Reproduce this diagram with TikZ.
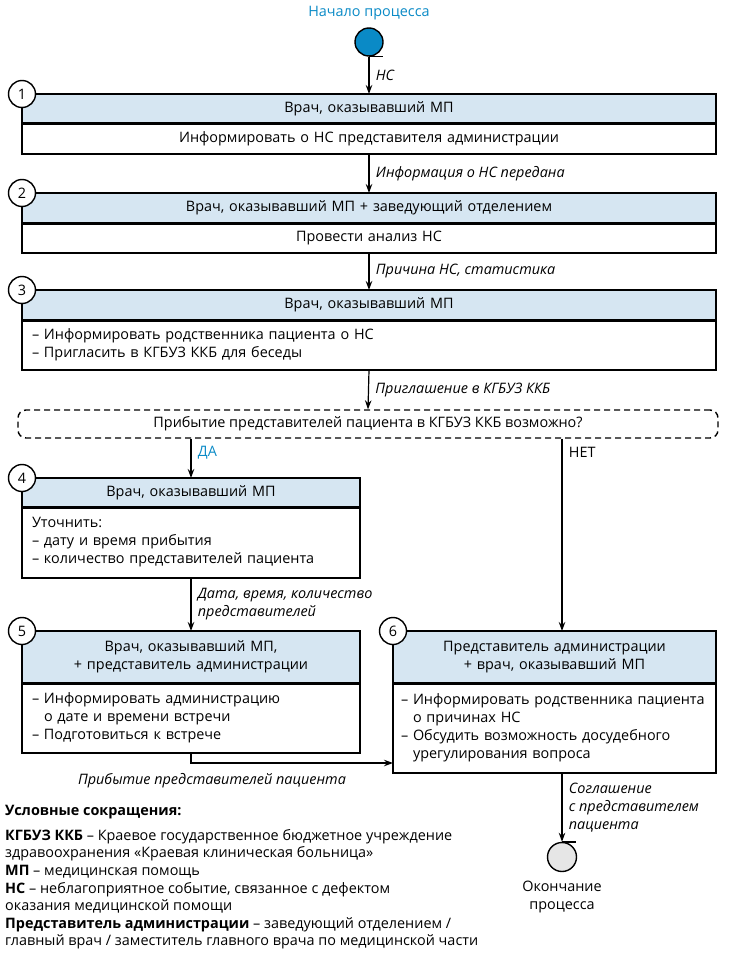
\documentclass[tikz,border=0pt]{standalone}
\usepackage{fontspec}
\setmainfont{Open Sans}
\usetikzlibrary{positioning, arrows.meta}

\definecolor{procblue}{HTML}{0A8AC6}
\definecolor{hdrfill}{HTML}{D6E6F2}
\definecolor{endfill}{HTML}{E6E6E6}

\begin{document}
\begin{tikzpicture}[x=1pt, y=1pt,
    every node/.style={font=\fontsize{14.4}{18}\selectfont},
    hdr/.style={draw, line width=1.4pt, fill=hdrfill, anchor=north west, minimum height=30pt,
        inner xsep=10pt, inner ysep=0pt, outer sep=0pt, align=center},
    body/.style={draw, line width=1.4pt, fill=white, minimum height=30pt,
        inner xsep=10pt, inner ysep=0pt, outer sep=0pt, align=left},
    wide/.style={text width=674pt},
    half/.style={text width=318pt},
    right half/.style={text width=307pt, inner xsep=8pt},
    sep/.style={line width=3pt},
    num/.style={circle, draw, line width=1.4pt, fill=white, minimum size=27pt, inner sep=0pt},
    arr/.style={line width=1.2pt, -{Stealth[length=9pt, width=6.5pt]}},
    lbl/.style={font=\fontsize{14.4}{18}\selectfont\itshape, align=left},
    choice/.style={draw, line width=1.4pt, dash pattern=on 6pt off 4pt, rounded corners=8pt,
        minimum width=700pt, minimum height=28pt, inner sep=0pt}
]
    \useasboundingbox (0,0) rectangle (738,-955);

    % Start of the process
    \node[text=procblue] (starttxt) at (369,-13) {Начало процесса};
    \node[circle, draw, line width=1.4pt, fill=procblue, minimum size=28pt, inner sep=0pt] (start) at (369,-42) {};
    \draw[line width=1.4pt] (start.south) -- ++(14,0);

    % Step 1
    \node[hdr, wide] (hdr1) at (22,-94) {Врач, оказывавший МП};
    \node[body, wide, align=center, below=0pt of hdr1] (body1) {Информировать о НС представителя администрации};

    % Step 2
    \node[hdr, wide] (hdr2) at (22,-193) {Врач, оказывавший МП + заведующий отделением};
    \node[body, wide, align=center, below=0pt of hdr2] (body2) {Провести анализ НС};

    % Step 3
    \node[hdr, wide] (hdr3) at (22,-290) {Врач, оказывавший МП};
    \node[body, wide, minimum height=50pt, below=0pt of hdr3] (body3)
        {– Информировать родственника пациента о НС\\– Пригласить в КГБУЗ ККБ для беседы};

    % Decision
    \node[choice] (choice) at (368,-424) {Прибытие представителей пациента в КГБУЗ ККБ возможно?};

    % Step 4
    \node[hdr, half, minimum height=29pt] (hdr4) at (22,-478) {Врач, оказывавший МП};
    \node[body, half, minimum height=71pt, below=0pt of hdr4] (body4)
        {Уточнить:\\– дату и время прибытия\\– количество представителей пациента};

    % Step 5
    \node[hdr, half, minimum height=52pt] (hdr5) at (22,-631) {Врач, оказывавший МП,\\+ представитель администрации};
    \node[body, half, minimum height=70pt, below=0pt of hdr5] (body5)
        {– Информировать администрацию\\\phantom{– }о дате и времени встречи\\– Подготовиться к встрече};

    % Step 6
    \node[hdr, right half, minimum height=52pt] (hdr6) at (393,-631) {Представитель администрации\\+ врач, оказывавший МП};
    \node[body, right half, minimum height=90pt, below=0pt of hdr6] (body6)
        {– Информировать родственника пациента\\\phantom{– }о причинах НС\\– Обсудить возможность досудебного\\\phantom{– }урегулирования вопроса};

    % Separators and step numbers
    \foreach \n in {1,...,6} {
        \draw[sep] (hdr\n.south west) -- (hdr\n.south east);
        \node[num] (num\n) at (hdr\n.north west) {\n};
    }

    % End of the process
    \node[circle, draw, line width=1.4pt, fill=endfill, minimum size=29pt, inner sep=0pt] (end) at (562,-857) {};
    \draw[line width=1.4pt] (end.north) -- ++(14,0);
    \node[align=center, below=5pt of end] (endtxt) {Окончание\\процесса};

    % Connectors
    \coordinate (netx) at (562,0);
    \draw[arr] (start.south) -- (hdr1.north) node[lbl, midway, right=3pt] {НС};
    \draw[arr] (body1.south) -- (hdr2.north) node[lbl, midway, right=3pt] {Информация о НС передана};
    \draw[arr] (body2.south) -- (hdr3.north) node[lbl, midway, right=3pt] {Причина НС, статистика};
    \draw[arr] (body3.south) -- (choice.north) node[lbl, midway, right=3pt] {Приглашение в КГБУЗ ККБ};
    \draw[arr] (choice.south -| hdr4.north) -- (hdr4.north) node[pos=0.35, right=3pt, text=procblue] {ДА};
    \draw[arr] (choice.south -| netx) -- (hdr6.north -| netx) node[pos=0.07, right=3pt] {НЕТ};
    \draw[arr] (body4.south) -- (hdr5.north) node[lbl, midway, right=3pt] {Дата, время, количество\\представителей};
    \draw[arr] (body5.south) |- ([yshift=-10pt]body5.south -| body6.west);
    \node[lbl] (arrivetxt) at (212,-781) {Прибытие представителей пациента};
    \draw[arr] (body6.south -| netx) -- (end.north) node[lbl, midway, right=3pt] {Соглашение\\с представителем\\пациента};

    % Legend
    \node[anchor=west, inner sep=0pt] (legendhead) at (5,-812) {\textbf{Условные сокращения:}};
    \node[anchor=north west, inner sep=0pt, align=left, font=\fontsize{14.4}{17.6}\selectfont] (legend) at (5,-829)
        {\textbf{КГБУЗ ККБ} – Краевое государственное бюджетное учреждение\\
         здравоохранения «Краевая клиническая больница»\\
         \textbf{МП} – медицинская помощь\\
         \textbf{НС} – неблагоприятное событие, связанное с дефектом\\
         оказания медицинской помощи\\
         \textbf{Представитель администрации} – заведующий отделением /\\
         главный врач / заместитель главного врача по медицинской части};
\end{tikzpicture}
\end{document}
